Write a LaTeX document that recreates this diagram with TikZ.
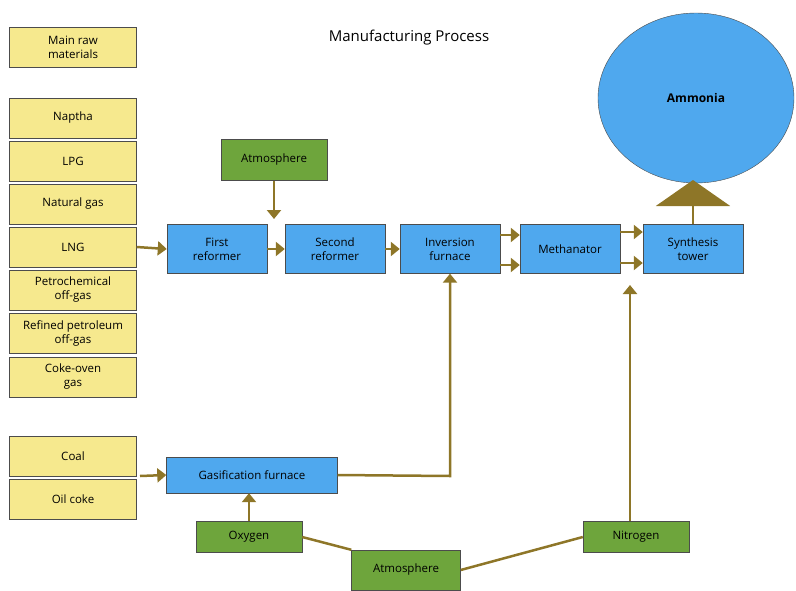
\documentclass[tikz,border=0pt]{standalone}
\usepackage{fontspec}
\setmainfont{Open Sans}
\usetikzlibrary{arrows.meta,positioning,shapes.geometric}
\definecolor{rawyellow}{HTML}{F6E98E}
\definecolor{stepblue}{HTML}{4FA8EE}
\definecolor{airgreen}{HTML}{6EA53C}
\definecolor{flowbrown}{HTML}{8E7628}
\tikzset{
  raw/.style={draw=black!70,fill=rawyellow,minimum width=127pt,minimum height=40pt,align=center,font=\fontsize{11.5}{14}\selectfont},
  unit/.style={draw=black!70,fill=stepblue,minimum width=100pt,minimum height=49pt,align=center,font=\fontsize{11.5}{14}\selectfont},
  air/.style={draw=black!70,fill=airgreen,minimum width=106pt,minimum height=31pt,align=center,font=\fontsize{11.5}{14}\selectfont},
  flow/.style={flowbrown,line width=2.5pt,-{Triangle[length=9pt,width=14pt]}},
  link/.style={flowbrown,line width=2.5pt}
}
\begin{document}
\begin{tikzpicture}[x=1pt,y=-1pt]
\useasboundingbox (0,0) rectangle (796,590);
% raw materials
\node[raw] (main) at (73,47) {Main raw\\materials};
\node[raw] (naptha) at (73,118) {Naptha};
\node[raw] (lpg) at (73,161) {LPG};
\node[raw] (ngas) at (73,204) {Natural gas};
\node[raw] (lng) at (73,247) {LNG};
\node[raw] (petro) at (73,290) {Petrochemical\\off-gas};
\node[raw] (refined) at (73,333) {Refined petroleum\\off-gas};
\node[raw] (coke) at (73,377) {Coke-oven\\gas};
\node[raw] (coal) at (73,456) {Coal};
\node[raw] (oilcoke) at (73,499) {Oil coke};
\node[font=\fontsize{15}{18}\selectfont] (title) at (409,38) {Manufacturing Process};
% process units
\node[unit] (first) at (217,249) {First\\reformer};
\node[unit] (second) at (335,249) {Second\\reformer};
\node[unit] (inversion) at (450,249) {Inversion\\furnace};
\node[unit] (methanator) at (570,249) {Methanator};
\node[unit] (synthesis) at (693,249) {Synthesis\\tower};
\node[unit,minimum width=171pt,minimum height=36pt] (gasif) at (252,475) {Gasification furnace};
\node[draw=black!70,fill=stepblue,ellipse,minimum width=196pt,minimum height=170pt,font=\bfseries\fontsize{12}{14}\selectfont] (ammonia) at (696,98) {Ammonia};
% air supply
\node[air,minimum height=41pt] (atmtop) at (274,160) {Atmosphere};
\node[air] (oxygen) at (249,537) {Oxygen};
\node[air,minimum width=109pt,minimum height=40pt] (atmbot) at (406,570) {Atmosphere};
\node[air] (nitrogen) at (636,537) {Nitrogen};
\coordinate (drop) at (274,219);
\coordinate (bend) at (450,476);
\coordinate (lift) at (630,285);
\coordinate (top) at (693,180);
\coordinate (feed) at (140,476);
% flows
\draw[flow] (lng.east) -- (first.west);
\draw[flow] (first) -- (second);
\draw[flow] (second) -- (inversion);
\draw[flow] ([yshift=-16pt]inversion.east) -- ([yshift=-16pt]methanator.west);
\draw[flow] ([yshift=14pt]inversion.east) -- ([yshift=14pt]methanator.west);
\draw[flow] ([yshift=-14pt]methanator.east) -- ([yshift=-14pt]synthesis.west);
\draw[flow] ([yshift=17pt]methanator.east) -- ([yshift=17pt]synthesis.west);
\draw[flow,-{Triangle[length=26pt,width=74pt]}] (synthesis.north) -- (top);
\draw[flow] (atmtop.south) -- (drop);
\draw[flow] (feed) -- (gasif.west);
\draw[flow] (gasif.east) -- (bend) -- (inversion.south);
\draw[flow] (oxygen.north) -- (oxygen.north |- gasif.south);
\draw[flow] (nitrogen.north -| lift) -- (lift);
\draw[link] (oxygen.east) -- (atmbot.north west);
\draw[link] (atmbot.east) -- (nitrogen.west);
\end{tikzpicture}
\end{document}
